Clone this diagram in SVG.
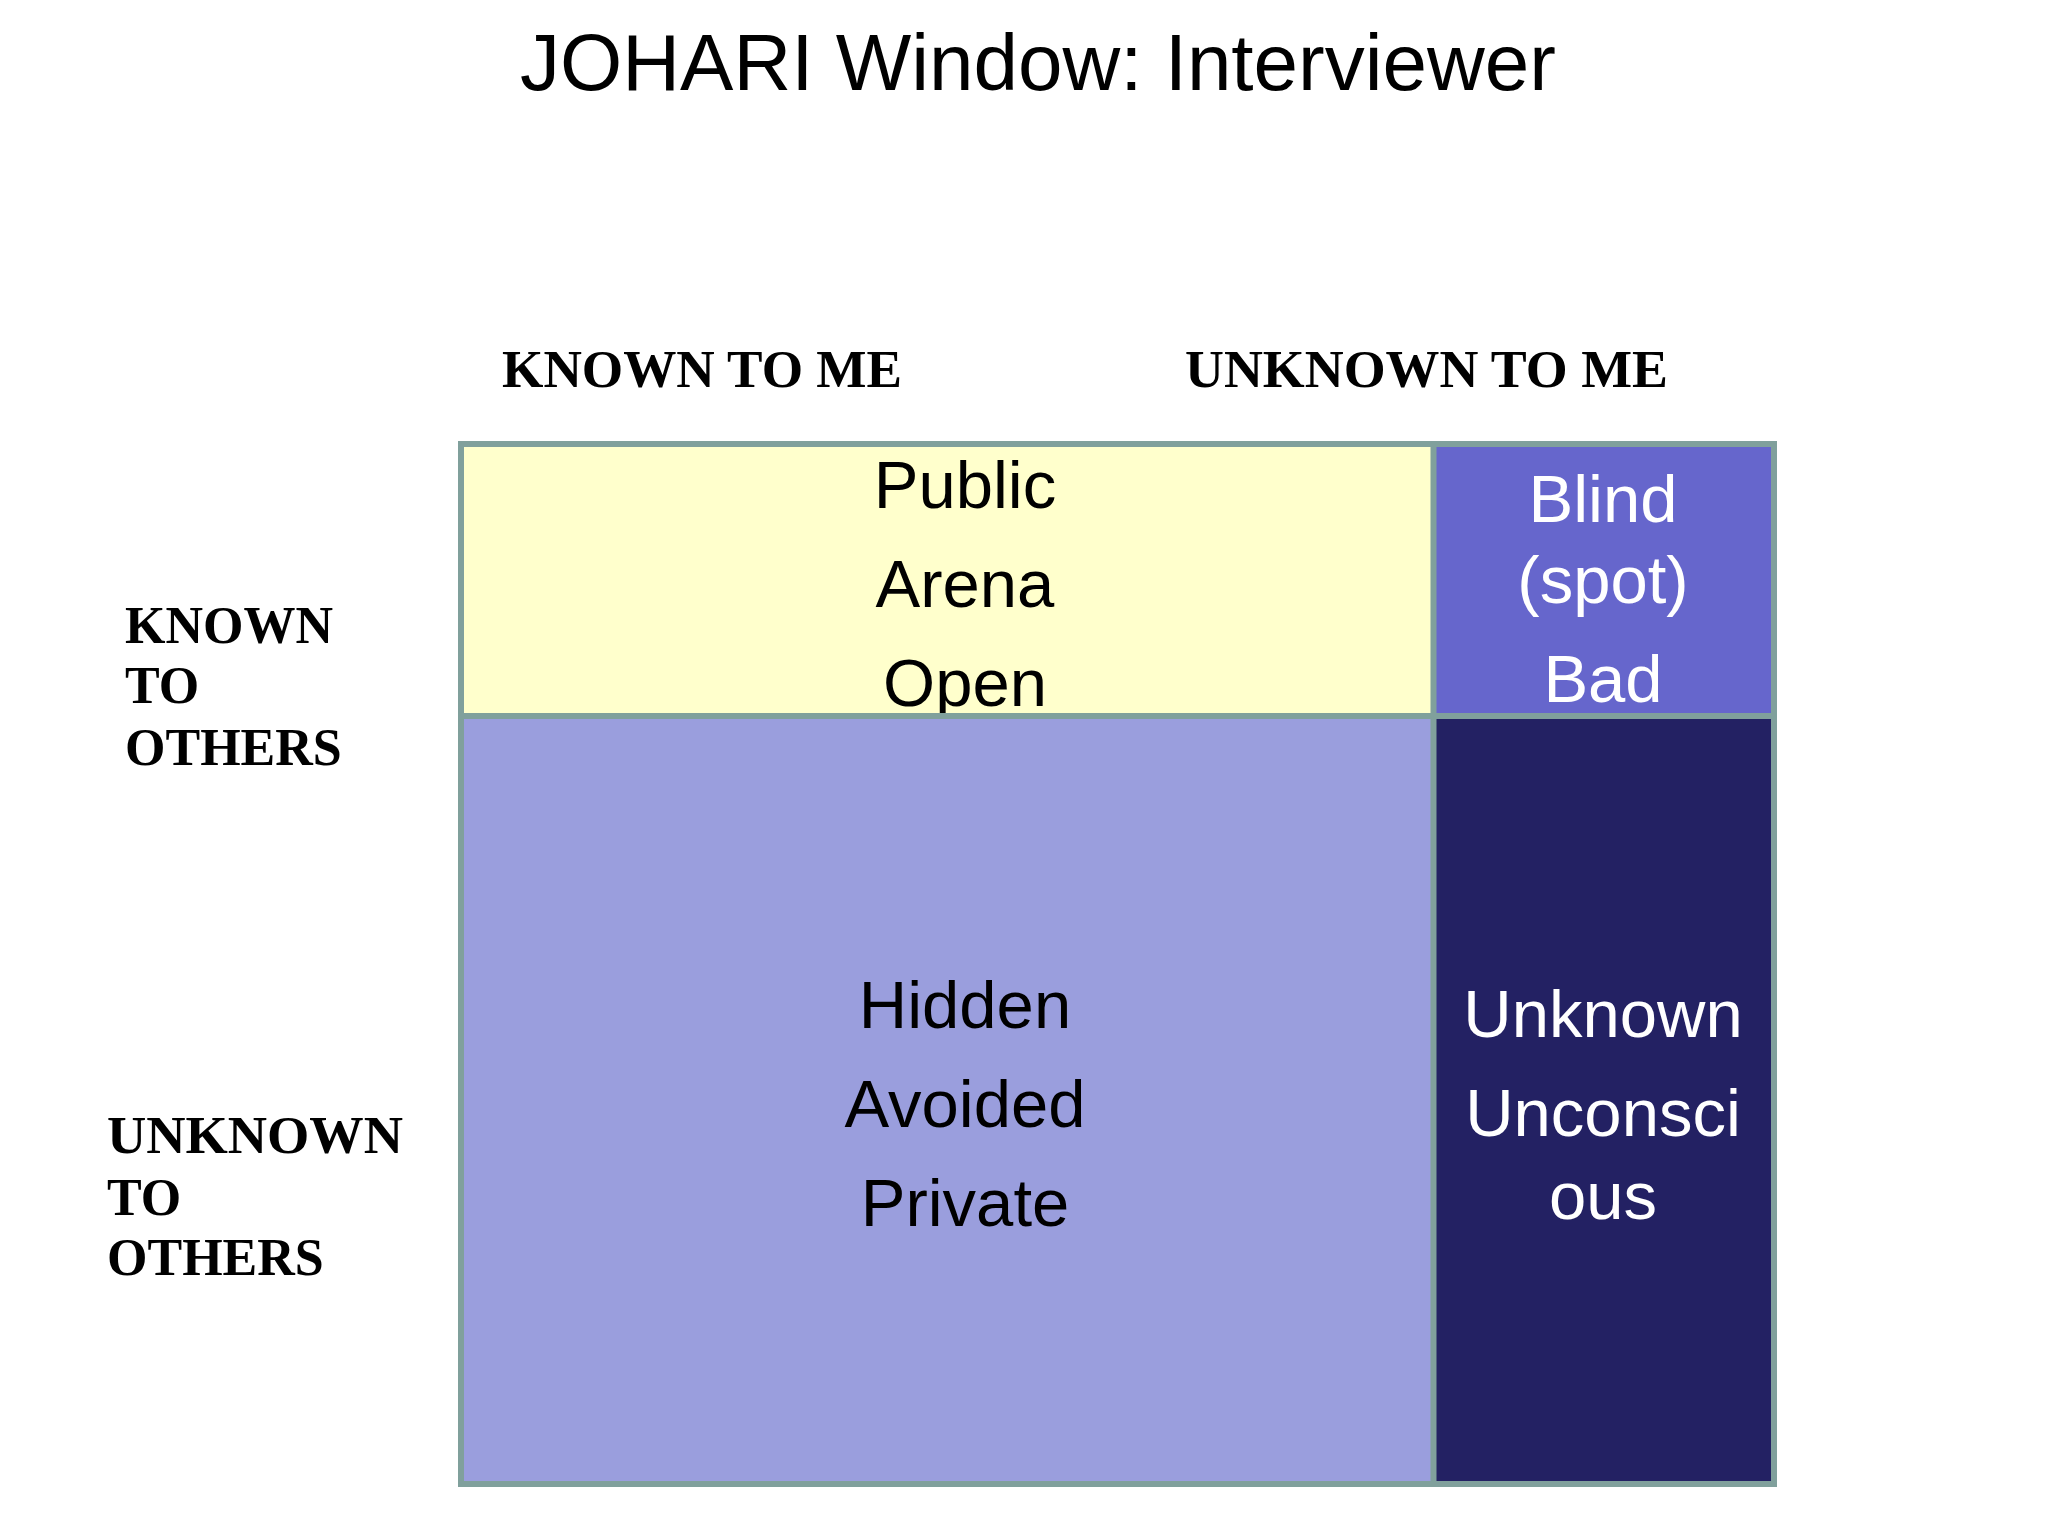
<svg xmlns="http://www.w3.org/2000/svg" width="2048" height="1536" viewBox="0 0 2048 1536">
<style>
.title{font-family:"Liberation Sans",Arial,sans-serif;font-size:80px;fill:#000;text-anchor:middle}
.hdr{font-family:"Liberation Serif","Times New Roman",serif;font-weight:bold;font-size:52px;fill:#000}
.cell{font-family:"Liberation Sans",Arial,sans-serif;font-size:67px;text-anchor:middle}
.dark{fill:#000}
.light{fill:#fff}
.border{stroke:#80A09C;stroke-width:6;fill:none}
</style>
<rect width="2048" height="1536" fill="#fff"/>
<text class="title" x="1038" y="90">JOHARI Window: Interviewer</text>
<g id="headers">
<text class="hdr" x="502" y="387" textLength="400" lengthAdjust="spacingAndGlyphs">KNOWN TO ME</text>
<text class="hdr" x="1185" y="387" textLength="483" lengthAdjust="spacingAndGlyphs">UNKNOWN TO ME</text>
<text class="hdr" x="125" y="643">KNOWN</text>
<text class="hdr" x="125" y="703">TO</text>
<text class="hdr" x="125" y="765">OTHERS</text>
<text class="hdr" x="107" y="1153" textLength="296" lengthAdjust="spacingAndGlyphs">UNKNOWN</text>
<text class="hdr" x="107" y="1215">TO</text>
<text class="hdr" x="107" y="1275">OTHERS</text>
</g>
<g id="public">
<rect x="461" y="444" width="972" height="272" fill="#FFFFCC"/>
<text class="cell dark" x="965" y="508">Public</text>
<text class="cell dark" x="965" y="607">Arena</text>
<text class="cell dark" x="965" y="706">Open</text>
</g>
<g id="blind">
<rect x="1433" y="444" width="341" height="272" fill="#6666CC"/>
<text class="cell light" x="1603" y="522">Blind</text>
<text class="cell light" x="1603" y="603">(spot)</text>
<text class="cell light" x="1603" y="702">Bad</text>
</g>
<g id="hidden">
<rect x="461" y="716" width="972" height="768" fill="#9A9EDD"/>
<text class="cell dark" x="965" y="1028">Hidden</text>
<text class="cell dark" x="965" y="1127">Avoided</text>
<text class="cell dark" x="965" y="1226">Private</text>
</g>
<g id="unknown">
<rect x="1433" y="716" width="341" height="768" fill="#232163"/>
<text class="cell light" x="1603" y="1037">Unknown</text>
<text class="cell light" x="1603" y="1136">Unconsci</text>
<text class="cell light" x="1603" y="1219">ous</text>
</g>
<g id="connectors">
<rect class="border" x="461" y="444" width="1313" height="1040"/>
<line class="border" x1="1433.5" y1="444" x2="1433.5" y2="1484"/>
<line class="border" x1="461" y1="716" x2="1774" y2="716"/>
</g>
</svg>
